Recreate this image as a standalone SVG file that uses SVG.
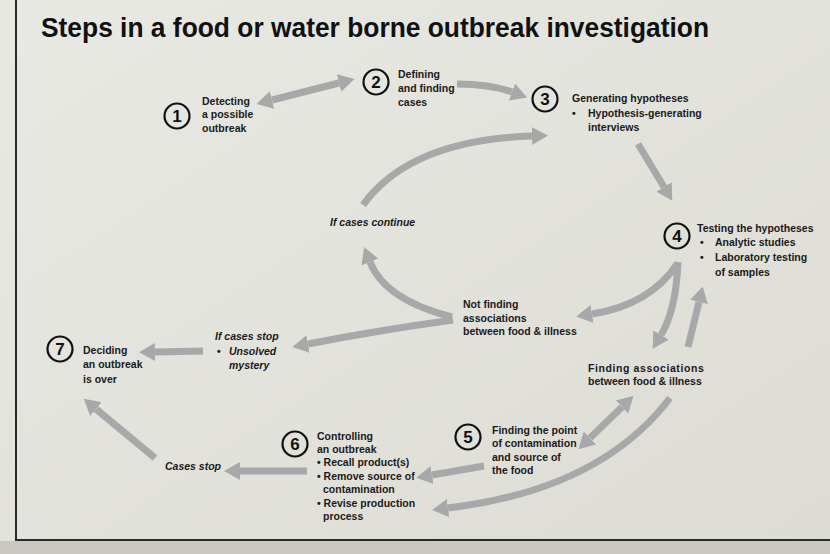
<svg xmlns="http://www.w3.org/2000/svg" width="830" height="554" viewBox="0 0 830 554">
<style>
.t{font-family:"Liberation Sans",Arial,sans-serif;font-size:10.5px;font-weight:bold;fill:#1a1a1a}
.w{letter-spacing:0.6px}
.i{font-style:italic}
.n{font-family:"Liberation Sans",Arial,sans-serif;font-size:17px;font-weight:bold;fill:#111;text-anchor:middle}
.c{fill:none;stroke:#111;stroke-width:2.2}
.a{fill:none;stroke:#a8a8a8;stroke-width:7;stroke-linecap:butt}
</style>
<defs>
<marker id="h" viewBox="0 0 16 18" refX="0" refY="9" markerWidth="16" markerHeight="18" markerUnits="userSpaceOnUse" orient="auto-start-reverse">
<path d="M0,0 L16,9 L0,18 Z" fill="#a8a8a8"/>
</marker>
<linearGradient id="bg" x1="0" y1="0" x2="1" y2="1">
<stop offset="0" stop-color="#e9e9e4"/>
<stop offset="1" stop-color="#dcdcd4"/>
</linearGradient>
</defs>
<rect x="0" y="0" width="830" height="554" fill="url(#bg)"/>
<rect x="0" y="541" width="830" height="13" fill="#c9c9c2"/>
<path d="M16,0 V540 H830" fill="none" stroke="#2a2a2a" stroke-width="2"/>
<text x="41" y="37" font-family="'Liberation Sans',Arial,sans-serif" font-size="28" font-weight="bold" fill="#111" textLength="668" lengthAdjust="spacingAndGlyphs">Steps in a food or water borne outbreak investigation</text>

<g id="connectors">
<path class="a" d="M272,100 L339,83" marker-start="url(#h)" marker-end="url(#h)"/>
<path class="a" d="M457,84 Q490,84 512,92" marker-end="url(#h)"/>
<path class="a" d="M638,144 L664,187" marker-end="url(#h)"/>
<path class="a" d="M678,262 Q676,310 661,335" marker-end="url(#h)"/>
<path class="a" d="M678,263 Q650,305 592,314" marker-end="url(#h)"/>
<path class="a" d="M688,347 L699,302" marker-end="url(#h)"/>
<path class="a" d="M453,320 Q380,330 308,344" marker-end="url(#h)"/>
<path class="a" d="M452,317 Q385,300 370,262" marker-end="url(#h)"/>
<path class="a" d="M363,205 Q410,140 532,136" marker-end="url(#h)"/>
<path class="a" d="M203,351 L155,352" marker-end="url(#h)"/>
<path class="a" d="M155,458 L96,409" marker-end="url(#h)"/>
<path class="a" d="M307,471 L240,471" marker-end="url(#h)"/>
<path class="a" d="M484,466 L432,475" marker-end="url(#h)"/>
<path class="a" d="M622,407 L590,438" marker-start="url(#h)" marker-end="url(#h)"/>
<path class="a" d="M670,398 Q600,490 448,508" marker-end="url(#h)"/>
</g>

<g id="step1">
<circle class="c" cx="177" cy="116" r="12.5"/>
<text class="n" x="177" y="122">1</text>
<text class="t" x="202" y="105">Detecting</text>
<text class="t" x="202" y="118">a possible</text>
<text class="t" x="202" y="132">outbreak</text>
</g>
<g id="step2">
<circle class="c" cx="376" cy="82" r="12.5"/>
<text class="n" x="376" y="88">2</text>
<text class="t" x="398" y="78">Defining</text>
<text class="t" x="398" y="92">and finding</text>
<text class="t" x="398" y="106">cases</text>
</g>
<g id="step3">
<circle class="c" cx="545" cy="99" r="12.5"/>
<text class="n" x="545" y="105">3</text>
<text class="t" x="572" y="102">Generating hypotheses</text>
<text class="t" x="572" y="117">•</text>
<text class="t" x="588" y="117">Hypothesis-generating</text>
<text class="t" x="588" y="131">interviews</text>
</g>
<g id="step4">
<circle class="c" cx="677" cy="236" r="12.5"/>
<text class="n" x="677" y="242">4</text>
<text class="t" x="697" y="232">Testing the hypotheses</text>
<text class="t" x="700" y="246">•</text>
<text class="t" x="715" y="246">Analytic studies</text>
<text class="t" x="700" y="261">•</text>
<text class="t" x="715" y="261">Laboratory testing</text>
<text class="t" x="715" y="276">of samples</text>
</g>
<g id="not-finding">
<text class="t" x="463" y="308">Not finding</text>
<text class="t" x="463" y="322">associations</text>
<text class="t" x="463" y="335">between food &amp; illness</text>
</g>
<g id="finding">
<text class="t w" x="588" y="372">Finding associations</text>
<text class="t" x="588" y="385">between food &amp; illness</text>
</g>
<g id="cases-continue">
<text class="t i" x="330" y="226">If cases continue</text>
</g>
<g id="cases-stop-unsolved">
<text class="t i" x="215" y="340">If cases stop</text>
<text class="t" x="217" y="355">•</text>
<text class="t i" x="229" y="355">Unsolved</text>
<text class="t i" x="229" y="369">mystery</text>
</g>
<g id="step7">
<circle class="c" cx="60" cy="349" r="12.5"/>
<text class="n" x="60" y="355">7</text>
<text class="t" x="83" y="354">Deciding</text>
<text class="t" x="83" y="368">an outbreak</text>
<text class="t" x="83" y="383">is over</text>
</g>
<g id="cases-stop">
<text class="t i" x="165" y="470">Cases stop</text>
</g>
<g id="step6">
<circle class="c" cx="295" cy="444" r="12.5"/>
<text class="n" x="295" y="450">6</text>
<text class="t" x="317" y="440">Controlling</text>
<text class="t" x="317" y="453">an outbreak</text>
<text class="t" x="317" y="466">• Recall product(s)</text>
<text class="t" x="317" y="480">• Remove source of</text>
<text class="t" x="323" y="493">contamination</text>
<text class="t" x="317" y="507">• Revise production</text>
<text class="t" x="323" y="520">process</text>
</g>
<g id="step5">
<circle class="c" cx="468" cy="437" r="12.5"/>
<text class="n" x="468" y="443">5</text>
<text class="t" x="492" y="434">Finding the point</text>
<text class="t" x="492" y="447">of contamination</text>
<text class="t" x="492" y="461">and source of</text>
<text class="t" x="492" y="474">the food</text>
</g>
</svg>
